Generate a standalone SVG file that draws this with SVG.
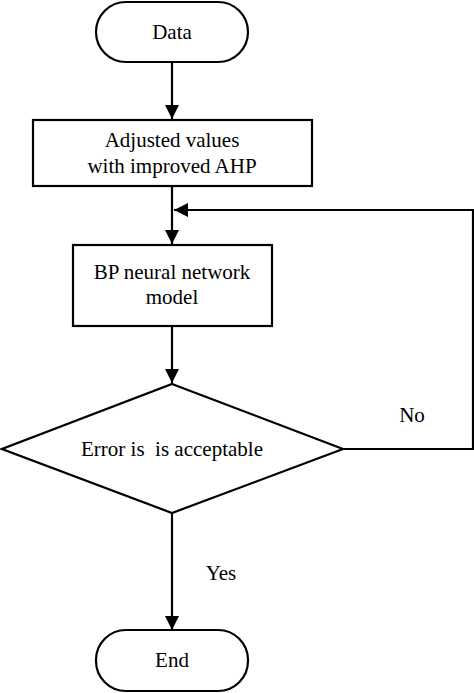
<svg xmlns="http://www.w3.org/2000/svg" width="474" height="693" viewBox="0 0 474 693">
<style>
.shape{fill:#fff;stroke:#000;stroke-width:2.2}
.line{fill:none;stroke:#000;stroke-width:2.2}
.t{font-size:21px;fill:#000;text-anchor:middle}
</style>
<defs>
<marker id="arr" viewBox="0 0 10 10" refX="10" refY="5" markerWidth="14" markerHeight="14" markerUnits="userSpaceOnUse" orient="auto">
<path d="M0,0 L10,5 L0,10 Z" fill="#000"/>
</marker>
</defs>
<rect width="474" height="693" fill="#fff"/>
<g font-family="'Liberation Serif', 'DejaVu Serif', serif">
<g id="connectors">
<line class="line" x1="172" y1="62" x2="172" y2="119" marker-end="url(#arr)"/>
<line class="line" x1="172" y1="186" x2="172" y2="244" marker-end="url(#arr)"/>
<line class="line" x1="172" y1="326" x2="172" y2="383" marker-end="url(#arr)"/>
<polyline class="line" points="343,449 473,449 473,210 174,210" marker-end="url(#arr)"/>
<line class="line" x1="172" y1="513" x2="172" y2="630" marker-end="url(#arr)"/>
<text class="t" x="412" y="422">No</text>
<text class="t" x="221" y="580">Yes</text>
</g>
<g id="data">
<rect class="shape" x="96" y="2" width="152" height="60" rx="30"/>
<text class="t" x="172" y="39">Data</text>
</g>
<g id="ahp">
<rect class="shape" x="33" y="120" width="279" height="66"/>
<text class="t" x="172" y="147">Adjusted values</text>
<text class="t" x="172" y="173">with improved AHP</text>
</g>
<g id="bp">
<rect class="shape" x="73" y="245" width="199" height="81"/>
<text class="t" x="172" y="279">BP neural network</text>
<text class="t" x="172" y="304">model</text>
</g>
<g id="decision">
<polygon class="shape" points="172,384 343,449 172,513 2,449"/>
<text class="t" x="172" y="456" xml:space="preserve">Error is  is acceptable</text>
</g>
<g id="end">
<rect class="shape" x="96" y="630" width="152" height="61" rx="30"/>
<text class="t" x="172" y="667">End</text>
</g>
</g>
</svg>
